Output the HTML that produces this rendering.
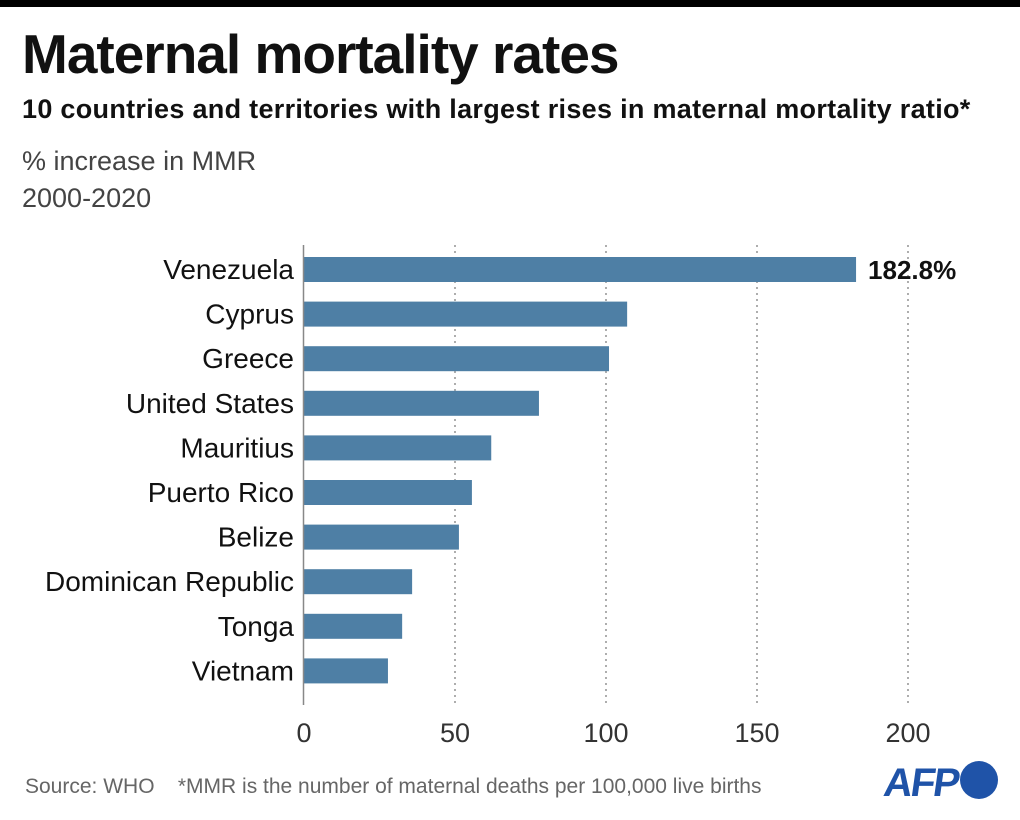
<!DOCTYPE html>
<html><head><meta charset="utf-8"><style>
body{margin:0;width:1020px;height:820px;background:#fff;font-family:"Liberation Sans",sans-serif;overflow:hidden;position:relative}
.t{position:absolute;white-space:nowrap;color:#111}
</style></head><body>
<div style="position:absolute;left:0;top:0;width:1020px;height:7px;background:#000"></div>
<div class="t" style="left:22px;top:22px;font-size:55px;font-weight:bold;letter-spacing:-1px">Maternal mortality rates</div>
<div class="t" style="left:22px;top:94px;font-size:27px;font-weight:bold;letter-spacing:0.3px">10 countries and territories with largest rises in maternal mortality ratio*</div>
<div class="t" style="left:22px;top:143px;font-size:27px;color:#444;line-height:37px">% increase in MMR<br>2000-2020</div>
<svg id="chart" width="1020" height="820" style="position:absolute;left:0;top:0"></svg>
<div class="t" style="left:25px;top:775px;font-size:21px;color:#666">Source: WHO&nbsp;&nbsp;&nbsp;&nbsp;*MMR is the number of maternal deaths per 100,000 live births</div>
<svg width="130" height="50" style="position:absolute;left:878px;top:756px">
<text x="5" y="40" font-family="Liberation Sans" font-weight="bold" font-size="40" fill="#1f53a8" letter-spacing="-2" transform="skewX(-8) translate(5,0)">AFP</text>
<circle cx="101" cy="24" r="19" fill="#1f53a8"/>
</svg>
<script>
const categories=["Venezuela","Cyprus","Greece","United States","Mauritius","Puerto Rico","Belize","Dominican Republic","Tonga","Vietnam"];
const values=[182.8,107,101,77.8,62,55.6,51.3,35.8,32.5,27.8];
const ticks=[0,50,100,150,200];
const NS="http://www.w3.org/2000/svg";
const svg=document.getElementById('chart');
const x=v=>304+v*3.02;
const y=i=>257+i*44.6;
function mk(t,a){const e=document.createElementNS(NS,t);for(const k in a)e.setAttribute(k,a[k]);svg.appendChild(e);return e;}
ticks.forEach(t=>{
 if(t>0){const g=mk('line',{x1:x(t),x2:x(t),y1:245,y2:705,stroke:'#777','stroke-width':1.2,'stroke-dasharray':'2,4'});
 
 }
 const l=mk('text',{x:x(t),y:742,'text-anchor':'middle','font-size':27,fill:'#333','font-family':'Liberation Sans'});l.textContent=t;
 
 
});
categories.forEach((c,i)=>{
 const r=mk('rect',{x:x(0),y:y(i),width:x(values[i])-x(0),height:25,fill:'#4e7fa5'});
 
 
 const l=mk('text',{x:294,y:y(i)+22,'text-anchor':'end','font-size':28,fill:'#111','font-family':'Liberation Sans'});l.textContent=c;
 
 
});
const v=mk('text',{x:x(values[0])+12,y:y(0)+22,'font-size':26,'font-weight':'bold',fill:'#111','font-family':'Liberation Sans'});v.textContent=values[0]+'%';


const ax=mk('line',{x1:303.5,x2:303.5,y1:245,y2:705,stroke:'#888','stroke-width':1.5});


</script>
</body></html>
